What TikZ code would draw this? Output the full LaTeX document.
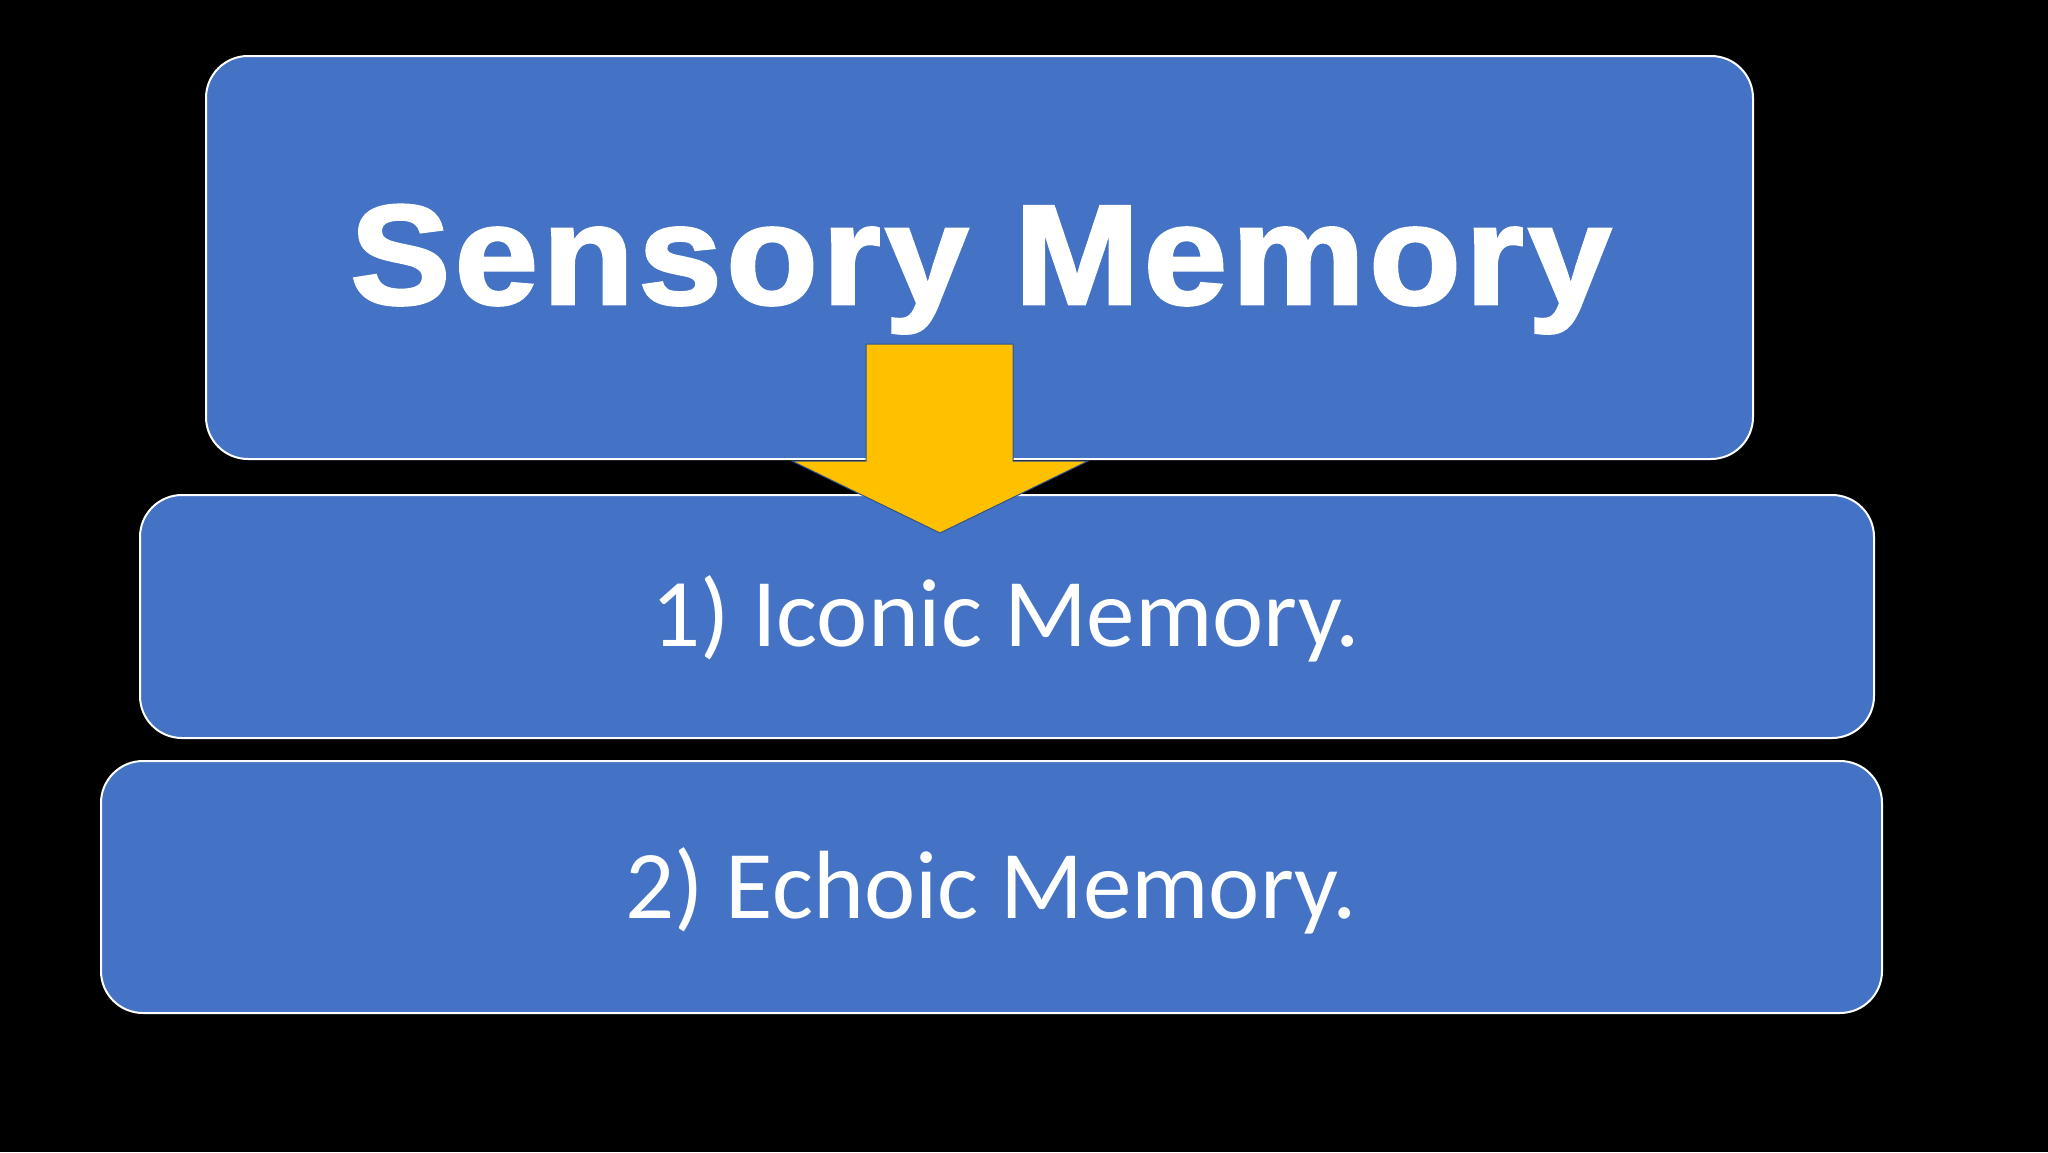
\documentclass[tikz,border=0pt]{standalone}
\usepackage{fontspec}
\newfontfamily\titlefont[FakeBold=2,LetterSpace=3]{Liberation Sans Bold}
\newfontfamily\bodyfont{Carlito}
\definecolor{boxblue}{HTML}{4472C4}
\definecolor{arrowgold}{HTML}{FFC000}
\definecolor{arrowedge}{HTML}{2F528F}
\begin{document}
\begin{tikzpicture}[x=1pt,y=-1pt,
  box/.style={draw=white, line width=2pt, fill=boxblue, rounded corners=42pt, inner sep=0pt, outer sep=0pt},
  lbl/.style={text=white, anchor=base, inner sep=0pt}]
\fill[black] (0,0) rectangle (2048,1152);
\useasboundingbox (0,0) rectangle (2048,1152);
\node[box, minimum width=1547pt, minimum height=403pt] (b1) at (979.5,257.5) {};
\node[box, minimum width=1734pt, minimum height=243pt] (b2) at (1007,616.5) {};
\node[box, minimum width=1781pt, minimum height=252pt] (b3) at (991.5,887) {};
\node[lbl] (t1) at (981,304) {\scalebox{1.055}[1]{\titlefont\fontsize{142}{150}\selectfont Sensory Memory}};
\node[lbl] (t2) at (1006,646) {\bodyfont\fontsize{97}{110}\selectfont 1) Iconic Memory.};
\node[lbl] (t3) at (991,918) {\bodyfont\fontsize{97}{110}\selectfont 2) Echoic Memory.};
\draw[fill=arrowgold, draw=arrowedge, line width=1pt, line join=miter]
  (866,344) -- (1013,344) -- (1013,461) -- (1088,461) -- (940,533) -- (792,461) -- (866,461) -- cycle;
\end{tikzpicture}
\end{document}
